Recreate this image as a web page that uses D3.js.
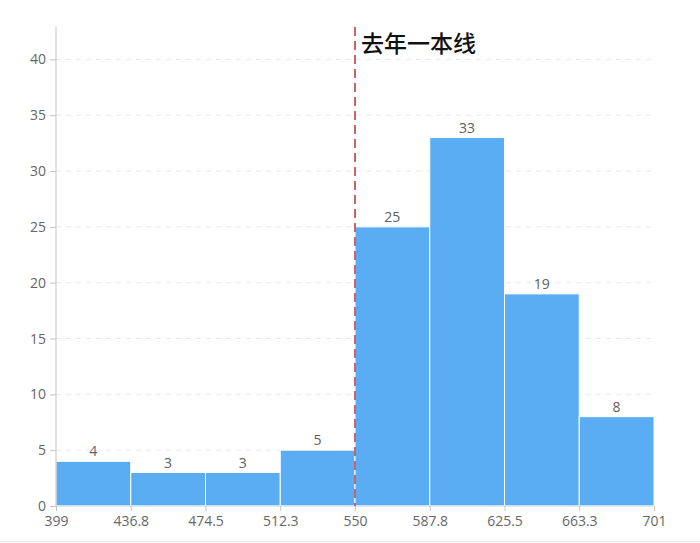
<!DOCTYPE html>
<html>
<head>
<meta charset="utf-8">
<script src="https://cdn.jsdelivr.net/npm/d3@7"></script>
<style>
  body { margin: 0; background: #fff; }
  svg { display: block; font-family: "Open Sans", "Noto Sans", "Noto Sans CJK SC", sans-serif; }
</style>
</head>
<body>
<svg width="700" height="543"></svg>
<script>
var width = 700,
    height = 543;

// bin edges and counts
var binEdges = [399, 436.75, 474.5, 512.25, 550, 587.75, 625.5, 663.25, 701];
var binCounts = [4, 3, 3, 5, 25, 33, 19, 8];
var tickLabels = ["399", "436.8", "474.5", "512.3", "550", "587.8", "625.5", "663.3", "701"];
var yTicks = [0, 5, 10, 15, 20, 25, 30, 35, 40];
var markLine = 550;
var markLabel = "去年一本线";

var margin = { left: 56, right: 46, top: 27, bottom: 37 };

var svg = d3.select("svg");

var x = d3.scaleLinear()
    .domain([binEdges[0], binEdges[binEdges.length - 1]])
    .range([margin.left, width - margin.right]);

var y = d3.scaleLinear()
    .domain([0, 42.9])
    .range([height - margin.bottom, margin.top]);

// grid lines
svg.append("g")
    .selectAll("line")
    .data(yTicks.slice(1))
    .join("line")
    .attr("x1", margin.left)
    .attr("x2", width - margin.right)
    .attr("y1", function (d) { return y(d); })
    .attr("y2", function (d) { return y(d); })
    .attr("stroke", "#e8e8e8")
    .attr("stroke-dasharray", "5,5");

// bars
var bins = binCounts.map(function (c, i) {
    return { x0: binEdges[i], x1: binEdges[i + 1], count: c };
});

svg.append("g")
    .selectAll("rect")
    .data(bins)
    .join("rect")
    .attr("x", function (d) { return x(d.x0); })
    .attr("y", function (d) { return y(d.count); })
    .attr("width", function (d) { return x(d.x1) - x(d.x0); })
    .attr("height", function (d) { return y(0) - y(d.count); })
    .attr("fill", "#5aadf3")
    .attr("stroke", "#fff")
    .attr("stroke-width", 1);

// value labels
svg.append("g")
    .selectAll("text")
    .data(bins)
    .join("text")
    .attr("x", function (d) { return (x(d.x0) + x(d.x1)) / 2; })
    .attr("y", function (d) { return y(d.count) - 5; })
    .attr("text-anchor", "middle")
    .attr("font-size", 14)
    .attr("fill", "#606060")
    .text(function (d) { return d.count; });

// y axis
var yAxis = svg.append("g")
    .attr("transform", "translate(" + margin.left + ",0)")
    .call(d3.axisLeft(y).tickValues(yTicks).tickSize(6).tickPadding(4));
yAxis.select(".domain").remove();
yAxis.append("line")
    .attr("x1", 0).attr("x2", 0)
    .attr("y1", margin.top).attr("y2", y(0))
    .attr("stroke", "#c4c4c4");
yAxis.selectAll(".tick line").attr("stroke", "#c4c4c4");
yAxis.selectAll(".tick text")
    .attr("font-size", 14)
    .attr("fill", "#666")
    .attr("font-family", "Open Sans, sans-serif");

// x axis
var xAxis = svg.append("g")
    .attr("transform", "translate(0," + y(0) + ")")
    .call(d3.axisBottom(x).tickValues(binEdges)
        .tickFormat(function (d, i) { return tickLabels[i]; })
        .tickSize(5).tickPadding(5));
xAxis.select(".domain").attr("stroke", "#cfe3f3").attr("stroke-width", 1.5)
    .attr("d", "M" + x(binEdges[0]) + ",0H" + x(binEdges[binEdges.length - 1]));
xAxis.selectAll(".tick line").attr("stroke", "#c4c4c4");
xAxis.selectAll(".tick text")
    .attr("font-size", 14)
    .attr("fill", "#666")
    .attr("font-family", "Open Sans, sans-serif");

// mark line
svg.append("line")
    .attr("x1", x(markLine)).attr("x2", x(markLine))
    .attr("y1", margin.top).attr("y2", y(0))
    .attr("stroke", "#c8646e")
    .attr("stroke-width", 2)
    .attr("stroke-dasharray", "9,5");

svg.append("text")
    .attr("x", x(markLine) + 6)
    .attr("y", 52)
    .attr("font-size", 23)
    .attr("font-weight", 500)
    .attr("fill", "#111")
    .attr("font-family", "Noto Sans CJK SC, sans-serif")
    .text(markLabel);

// bottom border
svg.append("line")
    .attr("x1", 0).attr("x2", width)
    .attr("y1", 541.5).attr("y2", 541.5)
    .attr("stroke", "#e6e6e6");
</script>
</body>
</html>
